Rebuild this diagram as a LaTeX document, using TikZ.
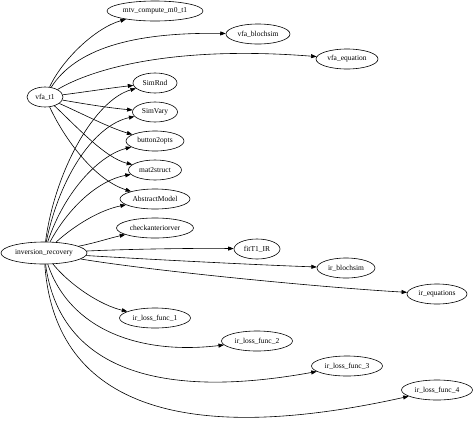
\documentclass[tikz,border=0pt]{standalone}
\usepackage{fontspec}
\setmainfont{Liberation Serif}
\usetikzlibrary{shapes.geometric,arrows.meta}
\begin{document}
\begin{tikzpicture}[x=1pt,y=-1pt,
  nd/.style={ellipse,draw,line width=0.6pt,inner sep=0pt,minimum height=20pt,font=\fontsize{7.5}{9}\selectfont},
  edge/.style={draw,line width=0.6pt,-{Triangle[length=5.5pt,width=4pt]}}]
\useasboundingbox (0,0) rectangle (474,445);
\node[nd,minimum width=96pt] (mtv) at (155,11) {mtv\_compute\_m0\_t1};
\node[nd,minimum width=64pt] (vfabloch) at (258,34) {vfa\_blochsim};
\node[nd,minimum width=62pt] (vfaeq) at (347,59) {vfa\_equation};
\node[nd,minimum width=36pt] (vfat1) at (45,97) {vfa\_t1};
\node[nd,minimum width=44pt] (simrnd) at (155,83) {SimRnd};
\node[nd,minimum width=45pt] (simvary) at (155,112) {SimVary};
\node[nd,minimum width=58pt] (button) at (155,141) {button2opts};
\node[nd,minimum width=53pt] (mat) at (155,170) {mat2struct};
\node[nd,minimum width=70pt] (abstract) at (155,199) {AbstractModel};
\node[nd,minimum width=77pt] (checkant) at (155,228) {checkanteriorver};
\node[nd,minimum width=46pt] (fit) at (257,249) {fitT1\_IR};
\node[nd,minimum width=58pt] (irbloch) at (346,268) {ir\_blochsim};
\node[nd,minimum width=60pt] (ireq) at (437,294) {ir\_equations};
\node[nd,minimum width=86pt,minimum height=22pt] (inv) at (44,253) {inversion\_recovery};
\node[nd,minimum width=71pt] (loss1) at (155,318) {ir\_loss\_func\_1};
\node[nd,minimum width=71pt] (loss2) at (257,341) {ir\_loss\_func\_2};
\node[nd,minimum width=71pt] (loss3) at (347,366) {ir\_loss\_func\_3};
\node[nd,minimum width=71pt] (loss4) at (437,390) {ir\_loss\_func\_4};
% vfa_t1 edges
\draw[edge] (vfat1) .. controls (62,60) and (95,28) .. (mtv);
\draw[edge] (vfat1) .. controls (75,50) and (130,32) .. (vfabloch);
\draw[edge] (vfat1) .. controls (90,70) and (170,45) .. (vfaeq);
\draw[edge] (vfat1) .. controls (85,92) and (110,88) .. (simrnd);
\draw[edge] (vfat1) .. controls (85,104) and (110,108) .. (simvary);
\draw[edge] (vfat1) .. controls (85,115) and (110,128) .. (button);
\draw[edge] (vfat1) .. controls (75,125) and (105,158) .. (mat);
\draw[edge] (vfat1) .. controls (65,140) and (95,180) .. (abstract);
% inversion_recovery edges
\draw[edge] (inv) .. controls (55,170) and (95,100) .. (simrnd);
\draw[edge] (inv) .. controls (60,175) and (95,125) .. (simvary);
\draw[edge] (inv) .. controls (65,190) and (100,155) .. (button);
\draw[edge] (inv) .. controls (70,205) and (100,180) .. (mat);
\draw[edge] (inv) .. controls (75,225) and (100,210) .. (abstract);
\draw[edge] (inv) .. controls (95,243) and (110,238) .. (checkant);
\draw[edge] (inv) .. controls (130,249) and (200,248) .. (fit);
\draw[edge] (inv) .. controls (160,260) and (260,265) .. (irbloch);
\draw[edge] (inv) .. controls (160,272) and (330,288) .. (ireq);
\draw[edge] (inv) .. controls (70,285) and (100,305) .. (loss1);
\draw[edge] (inv) .. controls (70,330) and (140,355) .. (loss2);
\draw[edge] (inv) .. controls (60,370) and (160,400) .. (loss3);
\draw[edge] (inv) .. controls (55,410) and (190,445) .. (loss4);
\end{tikzpicture}
\end{document}
